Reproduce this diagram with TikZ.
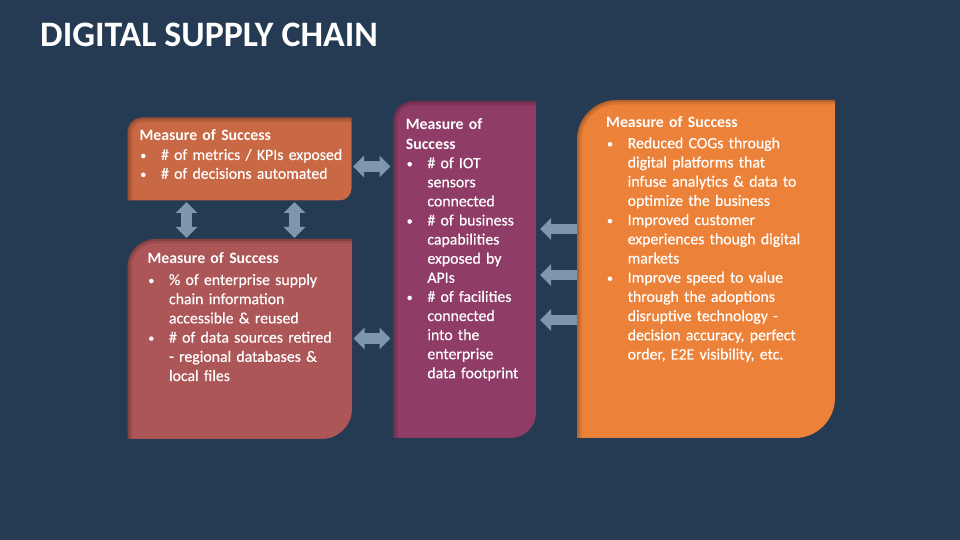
\documentclass[tikz,border=0pt]{standalone}
\usepackage{fontspec}
\setmainfont{Carlito}[FakeBold=0.35,BoldFont=Carlito Bold,BoldFeatures={FakeBold=0}]
\usetikzlibrary{arrows.meta,calc}
\definecolor{bgc}{RGB}{37,58,83}
\definecolor{cA}{RGB}{200,104,68}
\definecolor{cB}{RGB}{173,86,88}
\definecolor{cC}{RGB}{143,61,102}
\definecolor{cD}{RGB}{236,130,57}
\definecolor{acol}{RGB}{127,150,175}
\newcommand\bulx{\makebox[21.5pt][l]{\hspace{0.8pt}\raisebox{0.6pt}{\fontsize{12}{12}\selectfont•}}}
\newcommand\indx{\hspace*{21.5pt}}
\newcommand\blobpath[3]{(#1.south west) -- ([yshift=-#2]#1.north west) arc[start angle=180,end angle=90,radius=#2] -- (#1.north east) -- ([yshift=#3]#1.south east) arc[start angle=0,end angle=-90,radius=#3] -- cycle}
\newcommand\innerpath[4]{([xshift=#4]#1.south west) -- ([xshift=#4,yshift=-#2]#1.north west) arc[start angle=180,end angle=90,radius=#2-#4] -- ([yshift=-#4]#1.north east) -- ([yshift=#3]#1.south east) arc[start angle=0,end angle=-90,radius=#3] -- cycle}
\newcommand\blobfill[4]{%
  \fill[#2] \blobpath{#1}{#3}{#4};
  \fill[black, opacity=0.10, even odd rule] \blobpath{#1}{#3}{#4} \innerpath{#1}{#3}{#4}{4.5pt};
  \fill[black, opacity=0.14, even odd rule] \blobpath{#1}{#3}{#4} \innerpath{#1}{#3}{#4}{2pt};}
\tikzset{
  frame/.style={inner sep=0pt, outer sep=0pt, draw=none, minimum width=#1},
  txt/.style={anchor=base west, inner sep=0pt, text=white, text width=260pt, align=left},
  arr/.style={draw=acol, line width=10.5pt, -{Triangle[width=21pt,length=11pt]}},
  darr/.style={draw=acol, line width=10.5pt, {Triangle[width=21pt,length=11pt]}-{Triangle[width=21pt,length=11pt]}}
}
\begin{document}
\begin{tikzpicture}[x=1pt,y=1pt]
\useasboundingbox (0,0) rectangle (960,540);
\fill[bgc] (0,0) rectangle (960,540);
\node[anchor=base west, inner sep=0pt, text=white, font=\fontsize{35.8}{40}\selectfont\bfseries] (title) at (40,493.3) {DIGITAL SUPPLY CHAIN};
% frames
\node[frame=224pt, minimum height=83pt] (b1) at (239.5,381) {};
\node[frame=224.5pt, minimum height=200pt] (b2) at (239.75,201) {};
\node[frame=143pt, minimum height=337pt] (b3) at (464.5,270.5) {};
\node[frame=258pt, minimum height=338pt] (b4) at (706,271) {};
\blobfill{b1}{cA}{15pt}{12pt}
\blobfill{b2}{cB}{28pt}{30pt}
\blobfill{b3}{cC}{20pt}{25pt}
\blobfill{b4}{cD}{40pt}{40pt}
% texts
\node[txt, font=\fontsize{15.8}{18.8}\selectfont] (t1) at (139.3,399.3) {\textbf{Measure of Success}\\[0.5pt]
\bulx\# of metrics / KPIs exposed\\
\bulx\# of decisions automated};
\node[txt, font=\fontsize{15.8}{19.2}\selectfont] (t2) at (147.3,276) {\textbf{Measure of Success}\\[1.8pt]
\bulx\% of enterprise supply\\
\indx chain information\\
\indx accessible \& reused\\
\bulx\# of data sources retired\\
\indx - regional databases \&\\
\indx local files};
\node[txt, font=\fontsize{15.8}{19.1}\selectfont] (t3) at (405.7,410) {\textbf{Measure of}\\
\textbf{Success}\\
\bulx\# of IOT\\
\indx sensors\\
\indx connected\\
\bulx\# of business\\
\indx capabilities\\
\indx exposed by\\
\indx APIs\\
\bulx\# of facilities\\
\indx connected\\
\indx into the\\
\indx enterprise\\
\indx data footprint};
\node[txt, font=\fontsize{15.8}{19.2}\selectfont] (t4) at (606,412.7) {\textbf{Measure of Success}\\[1.8pt]
\bulx Reduced COGs through\\
\indx digital platforms that\\
\indx infuse analytics \& data to\\
\indx optimize the business\\
\bulx Improved customer\\
\indx experiences though digital\\
\indx markets\\
\bulx Improve speed to value\\
\indx through the adoptions\\
\indx disruptive technology -\\
\indx decision accuracy, perfect\\
\indx order, E2E visibility, etc.};
% arrows
\draw[darr, shorten <=1.5pt, shorten >=2.5pt] ([yshift=-7.5pt]b1.east) -- ([yshift=-7.5pt]b1.east -| b3.west);
\draw[darr, shorten <=1.5pt, shorten >=2.5pt] ([yshift=0.5pt]b2.east) -- ([yshift=0.5pt]b2.east -| b3.west);
\draw[darr, shorten <=1.5pt, shorten >=1pt] ([xshift=-53pt]b1.south) -- ([xshift=-53pt]b1.south |- b2.north);
\draw[darr, shorten <=1.5pt, shorten >=1pt] ([xshift=55pt]b1.south) -- ([xshift=55pt]b1.south |- b2.north);
\draw[arr, shorten >=4pt] ([yshift=40pt]b4.west) -- ([yshift=40pt]b4.west -| b3.east);
\draw[arr, shorten >=4pt] ([yshift=-6pt]b4.west) -- ([yshift=-6pt]b4.west -| b3.east);
\draw[arr, shorten >=4pt] ([yshift=-51pt]b4.west) -- ([yshift=-51pt]b4.west -| b3.east);
\end{tikzpicture}
\end{document}
